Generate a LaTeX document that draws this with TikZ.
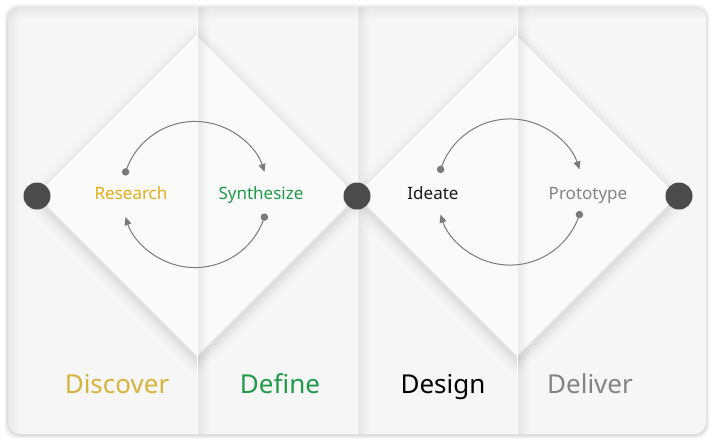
\documentclass[tikz,border=0pt]{standalone}
\usepackage{fontspec}
\setmainfont{Noto Sans}
\usetikzlibrary{arrows.meta,fadings}

\tikzfading[name=haciaderecha, left color=transparent!0, right color=transparent!100]
\tikzfading[name=haciaabajo, top color=transparent!0, bottom color=transparent!100]

\tikzset{
    punto/.style={circle,fill=oscuro,minimum size=27pt,inner sep=0pt},
    puntito/.style={circle,fill=flecha,minimum size=7.5pt,inner sep=0pt},
    ciclo/.style={draw=flecha,line width=1pt,-{Triangle[length=8pt,width=7pt]}},
    etapa/.style={anchor=base,font=\fontsize{17}{20}\selectfont},
    fase/.style={anchor=base,font=\fontsize{26}{30}\selectfont},
}

\begin{document}
\begin{tikzpicture}[x=1pt,y=-1pt]
        %colores
        \definecolor{oro}{HTML}{E2AD17}
        \definecolor{orosuave}{HTML}{D6B33C}
        \definecolor{verde}{HTML}{1E9B48}
        \definecolor{gris}{HTML}{838383}
        \definecolor{oscuro}{HTML}{4B4B4B}
        \definecolor{flecha}{HTML}{7A7A7A}
        \definecolor{tarjeta}{HTML}{F6F6F6}
        \definecolor{rombo}{HTML}{FAFAFA}

        \useasboundingbox (0,0) rectangle (714,440);

        % Sombra de la tarjeta
        \foreach \d/\o in {4/0.02,3/0.03,2/0.04,1/0.05}
        \fill[black,opacity=\o,rounded corners=13pt] (8-\d,8-\d) rectangle (706+\d,435+\d);
        % Tarjeta
        \fill[tarjeta,rounded corners=12pt] (8,7) rectangle (706,434);

        \begin{scope}
            \clip[rounded corners=12pt] (8,7) rectangle (706,434);
            % Rombos, sombra y relleno
            \foreach \c in {197,517}{
                \foreach \d/\o in {16/0.015,11/0.02,7/0.025,3/0.03}
                \fill[black,opacity=\o] (\c-160-\d,200) -- (\c,40-\d) -- (\c+160+\d,200) -- (\c,360+\d) -- cycle;
                \fill[rombo] (\c-160,196) -- (\c,36) -- (\c+160,196) -- (\c,356) -- cycle;
                \draw[white,line width=2pt] (\c-160,196) -- (\c,36);
            }
            % Separadores de paneles
            \foreach \x in {197,357,517}{
                \fill[black,opacity=0.07,path fading=haciaderecha] (\x,7) rectangle (\x+12,434);
                \draw[white,line width=0.8pt] (\x,7) -- (\x,434);
            }
            % Borde superior e izquierdo
            \fill[black,opacity=0.05,path fading=haciaabajo] (8,7) rectangle (706,20);
            \fill[black,opacity=0.05,path fading=haciaderecha] (8,7) rectangle (20,434);
        \end{scope}

        % Puntos grandes
        \node[punto] (inicio) at (37,196) {};
        \node[punto] (medio) at (357,196) {};
        \node[punto] (fin) at (679,196) {};

        % Ciclos
        \foreach \cx/\cy/\n in {195/194.5/1,510/192/2}{
            \node[puntito] (arriba\n) at (\cx-69.4,\cy-22.6) {};
            \node[puntito] (abajo\n) at (\cx+69.4,\cy+22.6) {};
            \draw[ciclo] (arriba\n.center) arc[start angle=162,end angle=18,radius=73pt];
            \draw[ciclo] (abajo\n.center) arc[start angle=-18,end angle=-162,radius=73pt];
        }

        % Etapas
        \node[etapa,text=oro] (research) at (131,199.5) {Research};
        \node[etapa,text=verde] (synthesize) at (261,199.5) {Synthesize};
        \node[etapa,text=black!90] (ideate) at (433,199.5) {Ideate};
        \node[etapa,text=gris] (prototype) at (588,199.5) {Prototype};

        % Fases
        \node[fase,text=orosuave] (discover) at (117,393) {Discover};
        \node[fase,text=verde] (define) at (280,393) {Define};
        \node[fase,text=black] (design) at (443,393) {Design};
        \node[fase,text=gris] (deliver) at (590,393) {Deliver};
    \end{tikzpicture}
\end{document}
